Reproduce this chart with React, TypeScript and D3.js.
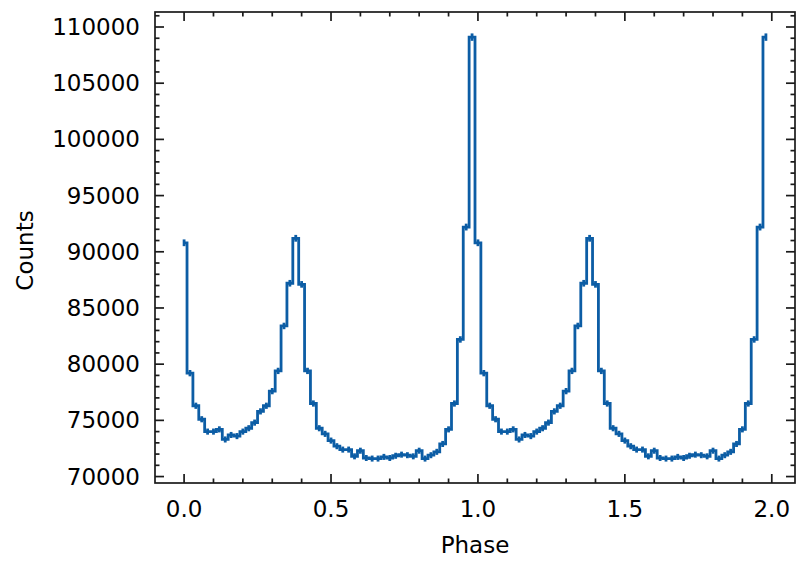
import React from 'react'
import * as d3 from 'd3'

// one rotation of the pulse profile, 50 phase bins; the plot shows two cycles
const counts = [
  90800, 79200, 76300, 75100, 74000, 74000, 74200, 73300, 73700, 73600,
  74000, 74300, 74800, 75800, 76300, 77600, 79400, 83400, 87200, 91200,
  87100, 79400, 76500, 74300, 73800, 73200, 72700, 72400, 72400, 71800,
  72300, 71650, 71600, 71600, 71750, 71650, 71850, 71950, 71900, 71800,
  72300, 71600, 71900, 72200, 72900, 74200, 76500, 82200, 92200, 109100
]
const countErrors = [
  301, 281, 276, 274, 272, 272, 272, 271, 271, 271,
  272, 273, 273, 275, 276, 279, 282, 289, 295, 302,
  295, 282, 277, 273, 272, 271, 270, 269, 269, 268,
  269, 268, 268, 268, 268, 268, 268, 268, 268, 268,
  269, 268, 268, 269, 270, 272, 277, 287, 304, 330
]
const cycles = 2
const binWidth = 0.02

const width = 807
const height = 570
const left = 155
const right = 795
const top = 12
const bottom = 483
const color = '#0C5DA5'
const font = 'DejaVu Sans'
const fontSize = 23

const App = () => {
  const n = counts.length
  const data = d3.range(cycles * n).map(i => ({
    phase: i * binWidth,
    value: counts[i % n],
    err: countErrors[i % n]
  }))

  // matplotlib-like 5% margins around the data
  const xExt = d3.extent(data, d => d.phase) as [number, number]
  const yLo = d3.min(data, d => d.value - d.err) as number
  const yHi = d3.max(data, d => d.value + d.err) as number
  const xPad = (xExt[1] - xExt[0]) * 0.05
  const yPad = (yHi - yLo) * 0.05

  const xScale = d3.scaleLinear()
    .domain([xExt[0] - xPad, xExt[1] + xPad])
    .range([left, right])
  const yScale = d3.scaleLinear()
    .domain([yLo - yPad, yHi + yPad])
    .range([bottom, top])

  const line = d3.line<any>()
    .x(d => xScale(d.phase))
    .y(d => yScale(d.value))
    .curve(d3.curveStep)

  const xMajor = xScale.ticks(5)
  const xMinor = xScale.ticks(20).filter(t => !xMajor.some(m => Math.abs(m - t) < 1e-9))
  const yMajor = yScale.ticks(8)
  const yMinor = yScale.ticks(40).filter(t => !yMajor.includes(t))

  const major = 9
  const minor = 4.5
  const axisStroke = '#1a1a1a'
  const axisWidth = 1.7

  const xTicks = (ticks: number[], len: number) => ticks.map((t, i) => (
    <g key={'x' + len + i}>
      <line x1={xScale(t)} x2={xScale(t)} y1={bottom} y2={bottom - len} stroke={axisStroke} strokeWidth={axisWidth}/>
      <line x1={xScale(t)} x2={xScale(t)} y1={top} y2={top + len} stroke={axisStroke} strokeWidth={axisWidth}/>
    </g>
  ))
  const yTicks = (ticks: number[], len: number) => ticks.map((t, i) => (
    <g key={'y' + len + i}>
      <line x1={left} x2={left + len} y1={yScale(t)} y2={yScale(t)} stroke={axisStroke} strokeWidth={axisWidth}/>
      <line x1={right} x2={right - len} y1={yScale(t)} y2={yScale(t)} stroke={axisStroke} strokeWidth={axisWidth}/>
    </g>
  ))

  return (
    <svg width={width} height={height} style={{position: 'absolute', left: 0, top: 0, display: 'block', background: '#fff'}}
      fontFamily={font} fontSize={fontSize}>
      <path d={line(data) || ''} fill="none" stroke={color} strokeWidth={2.8} strokeLinejoin="miter"/>
      <g>
        {data.map((d, i) => (
          <line key={i} x1={xScale(d.phase)} x2={xScale(d.phase)}
            y1={yScale(d.value - d.err)} y2={yScale(d.value + d.err)}
            stroke={color} strokeWidth={2.8}/>
        ))}
      </g>
      {xTicks(xMinor, minor)}
      {xTicks(xMajor, major)}
      {yTicks(yMinor, minor)}
      {yTicks(yMajor, major)}
      <rect x={left} y={top} width={right - left} height={bottom - top} fill="none" stroke={axisStroke} strokeWidth={axisWidth}/>
      {xMajor.map((t, i) => (
        <text key={i} x={xScale(t)} y={bottom + 34} textAnchor="middle">{t.toFixed(1)}</text>
      ))}
      {yMajor.map((t, i) => (
        <text key={i} x={left - 15} y={yScale(t) + 8} textAnchor="end">{t}</text>
      ))}
      <text x={(left + right) / 2} y={553} textAnchor="middle">Phase</text>
      <text transform={`translate(33,${(top + bottom) / 2 + 3}) rotate(-90)`} textAnchor="middle">Counts</text>
    </svg>
  )
}

export default App
